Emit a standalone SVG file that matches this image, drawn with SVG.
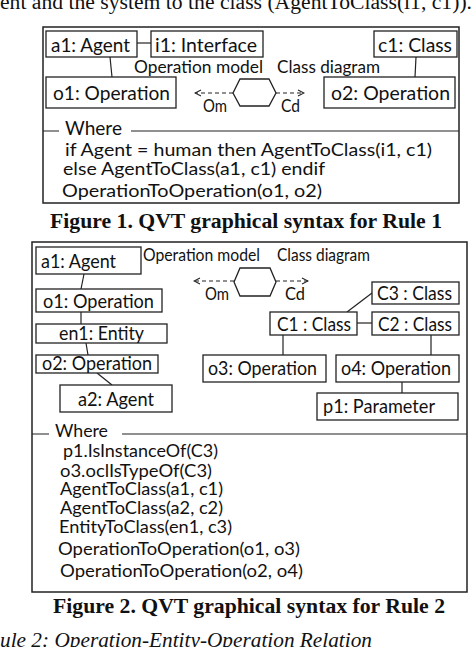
<svg xmlns="http://www.w3.org/2000/svg" width="474" height="647" viewBox="0 0 474 647">
<defs>
<style>
.bg{fill:#fff}
.frame{fill:none;stroke:#222;stroke-width:1.5}
.box{fill:#fff;stroke:#222;stroke-width:1.3}
.ln{fill:none;stroke:#222;stroke-width:1.2}
.dash{fill:none;stroke:#222;stroke-width:1.1;stroke-dasharray:4 3}
.t{font-family:Lato,"Open Sans","Liberation Sans",sans-serif;fill:#111}
.cap{font-family:"Liberation Serif","Times New Roman",serif;font-weight:bold;fill:#111;font-size:20px}
.ser{font-family:"Liberation Serif","Times New Roman",serif;fill:#111;font-size:20px}
</style>
<marker id="ah" viewBox="0 0 8 8" refX="7" refY="4" markerWidth="8" markerHeight="8" markerUnits="userSpaceOnUse" orient="auto">
<path d="M1,1 L7,4 L1,7" fill="none" stroke="#222" stroke-width="1.1"/>
</marker>
</defs>
<rect class="bg" x="0" y="0" width="474" height="647"/>

<text class="ser" x="0" y="9" textLength="472" lengthAdjust="spacingAndGlyphs">ent and the system to the class (AgentToClass(i1, c1)).</text>

<!-- Figure 1 -->
<g id="fig1">
<rect class="frame" x="43" y="27" width="416" height="176"/>
<path class="ln" d="M43 131 H59 M131 131 H459"/>
<text class="t" x="65" y="135" font-size="19" textLength="57" lengthAdjust="spacingAndGlyphs">Where</text>
<text class="t" x="134" y="73" font-size="18" textLength="129" lengthAdjust="spacingAndGlyphs">Operation model</text>
<text class="t" x="277" y="73" font-size="18" textLength="103" lengthAdjust="spacingAndGlyphs">Class diagram</text>
<text class="t" x="65" y="156" font-size="18" textLength="367" lengthAdjust="spacingAndGlyphs">if Agent = human then AgentToClass(i1, c1)</text>
<text class="t" x="63" y="175" font-size="18" textLength="262" lengthAdjust="spacingAndGlyphs">else AgentToClass(a1, c1) endif</text>
<text class="t" x="62" y="197" font-size="18" textLength="260" lengthAdjust="spacingAndGlyphs">OperationToOperation(o1, o2)</text>
</g>
<g id="f1-connectors">
<path class="ln" d="M137 43 H151"/>
<path class="ln" d="M110 57 L112 77"/>
<path class="ln" d="M416 57 L415 77"/>
<path class="dash" d="M233 93 H195" marker-end="url(#ah)"/>
<path class="dash" d="M276 93 H304" marker-end="url(#ah)"/>
</g>
<g id="f1-a1"><rect class="box" x="46" y="31" width="91" height="26"/><text class="t" x="51" y="52" font-size="20" textLength="79" lengthAdjust="spacingAndGlyphs">a1: Agent</text></g>
<g id="f1-i1"><rect class="box" x="151" y="31" width="112" height="26"/><text class="t" x="155" y="52" font-size="20" textLength="102" lengthAdjust="spacingAndGlyphs">i1: Interface</text></g>
<g id="f1-c1"><rect class="box" x="374" y="31" width="83" height="26"/><text class="t" x="378" y="52" font-size="20" textLength="74" lengthAdjust="spacingAndGlyphs">c1: Class</text></g>
<g id="f1-o1"><rect class="box" x="46" y="77" width="130" height="31"/><text class="t" x="53" y="100" font-size="20" textLength="117" lengthAdjust="spacingAndGlyphs">o1: Operation</text></g>
<g id="f1-o2"><rect class="box" x="324" y="77" width="131" height="31"/><text class="t" x="331" y="100" font-size="20" textLength="119" lengthAdjust="spacingAndGlyphs">o2: Operation</text></g>
<g id="f1-rel"><polygon class="box" points="233,93 240,79 269,79 276,93 269,106 240,106"/>
<text class="t" x="203" y="112" font-size="18" textLength="24" lengthAdjust="spacingAndGlyphs">Om</text>
<text class="t" x="281" y="112" font-size="18" textLength="19" lengthAdjust="spacingAndGlyphs">Cd</text></g>
<text class="cap" x="50" y="228" textLength="392" lengthAdjust="spacingAndGlyphs">Figure 1. QVT graphical syntax for Rule 1</text>

<!-- Figure 2 -->
<g id="fig2">
<rect class="frame" x="32" y="242" width="435" height="350"/>
<path class="ln" d="M32 434 H49 M122 434 H467"/>
<text class="t" x="55" y="437" font-size="18" textLength="53" lengthAdjust="spacingAndGlyphs">Where</text>
<text class="t" x="143" y="261" font-size="17" textLength="117" lengthAdjust="spacingAndGlyphs">Operation model</text>
<text class="t" x="277" y="261" font-size="17" textLength="93" lengthAdjust="spacingAndGlyphs">Class diagram</text>
<text class="t" x="63" y="457" font-size="17" textLength="155" lengthAdjust="spacingAndGlyphs">p1.IsInstanceOf(C3)</text>
<text class="t" x="60" y="477" font-size="17" textLength="152" lengthAdjust="spacingAndGlyphs">o3.oclIsTypeOf(C3)</text>
<text class="t" x="60" y="495" font-size="17" textLength="163" lengthAdjust="spacingAndGlyphs">AgentToClass(a1, c1)</text>
<text class="t" x="60" y="514" font-size="17" textLength="163" lengthAdjust="spacingAndGlyphs">AgentToClass(a2, c2)</text>
<text class="t" x="59" y="533" font-size="17" textLength="173" lengthAdjust="spacingAndGlyphs">EntityToClass(en1, c3)</text>
<text class="t" x="58" y="555" font-size="17" textLength="242" lengthAdjust="spacingAndGlyphs">OperationToOperation(o1, o3)</text>
<text class="t" x="60" y="577" font-size="17" textLength="243" lengthAdjust="spacingAndGlyphs">OperationToOperation(o2, o4)</text>
</g>
<g id="f2-connectors">
<path class="ln" d="M84 274 L81 289"/>
<path class="ln" d="M81 312 L81 324"/>
<path class="ln" d="M86 343 L88 355"/>
<path class="ln" d="M97 373 L112 385"/>
<path class="ln" d="M347 312 L372 293"/>
<path class="ln" d="M357 323 H372"/>
<path class="ln" d="M283 335 V355"/>
<path class="ln" d="M431 335 V355"/>
<path class="ln" d="M402 382 V393"/>
<path class="dash" d="M234 281 H194" marker-end="url(#ah)"/>
<path class="dash" d="M276 281 H308" marker-end="url(#ah)"/>
</g>
<g id="f2-a1"><rect class="box" x="36" y="247" width="105" height="27"/><text class="t" x="41" y="268" font-size="19" textLength="75" lengthAdjust="spacingAndGlyphs">a1: Agent</text></g>
<g id="f2-o1"><rect class="box" x="36" y="289" width="126" height="23"/><text class="t" x="43" y="308" font-size="19" textLength="111" lengthAdjust="spacingAndGlyphs">o1: Operation</text></g>
<g id="f2-en1"><rect class="box" x="36" y="324" width="131" height="19"/><text class="t" x="59" y="340" font-size="19" textLength="85" lengthAdjust="spacingAndGlyphs">en1: Entity</text></g>
<g id="f2-o2"><rect class="box" x="36" y="355" width="122" height="18"/><text class="t" x="42" y="370" font-size="19" textLength="110" lengthAdjust="spacingAndGlyphs">o2: Operation</text></g>
<g id="f2-a2"><rect class="box" x="60" y="385" width="112" height="27"/><text class="t" x="78" y="406" font-size="19" textLength="76" lengthAdjust="spacingAndGlyphs">a2: Agent</text></g>
<g id="f2-o3"><rect class="box" x="203" y="355" width="123" height="27"/><text class="t" x="208" y="375" font-size="19" textLength="109" lengthAdjust="spacingAndGlyphs">o3: Operation</text></g>
<g id="f2-c3"><rect class="box" x="372" y="282" width="87" height="22"/><text class="t" x="377" y="300" font-size="19" textLength="75" lengthAdjust="spacingAndGlyphs">C3 : Class</text></g>
<g id="f2-c1"><rect class="box" x="270" y="312" width="87" height="23"/><text class="t" x="277" y="331" font-size="19" textLength="74" lengthAdjust="spacingAndGlyphs">C1 : Class</text></g>
<g id="f2-c2"><rect class="box" x="372" y="312" width="87" height="23"/><text class="t" x="378" y="331" font-size="19" textLength="74" lengthAdjust="spacingAndGlyphs">C2 : Class</text></g>
<g id="f2-o4"><rect class="box" x="336" y="355" width="123" height="27"/><text class="t" x="341" y="375" font-size="19" textLength="110" lengthAdjust="spacingAndGlyphs">o4: Operation</text></g>
<g id="f2-p1"><rect class="box" x="317" y="393" width="141" height="27"/><text class="t" x="323" y="413" font-size="19" textLength="112" lengthAdjust="spacingAndGlyphs">p1: Parameter</text></g>
<g id="f2-rel"><polygon class="box" points="234,282 240,268 270,268 276,282 270,296 240,296"/>
<text class="t" x="205" y="300" font-size="17" textLength="24" lengthAdjust="spacingAndGlyphs">Om</text>
<text class="t" x="285" y="300" font-size="17" textLength="20" lengthAdjust="spacingAndGlyphs">Cd</text></g>
<text class="cap" x="53" y="613" textLength="392" lengthAdjust="spacingAndGlyphs">Figure 2. QVT graphical syntax for Rule 2</text>

<text class="ser" x="0" y="647" font-style="italic" textLength="372" lengthAdjust="spacingAndGlyphs">ule 2: Operation-Entity-Operation Relation</text>
</svg>
